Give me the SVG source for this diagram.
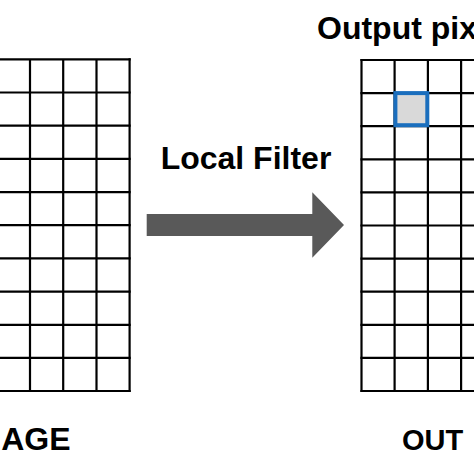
<svg xmlns="http://www.w3.org/2000/svg" width="474" height="474" viewBox="0 0 474 474">
<style>
.grid line{stroke:#000;stroke-width:2.2}
.t{font-family:"Liberation Sans",Arial,sans-serif;font-weight:bold;fill:#000}
</style>
<rect width="474" height="474" fill="#fff"/>
<g id="input-grid" class="grid">
<line x1="30" y1="59.3" x2="30" y2="391"/>
<line x1="63.2" y1="59.3" x2="63.2" y2="391"/>
<line x1="96.5" y1="59.3" x2="96.5" y2="391"/>
<line x1="129.6" y1="58.2" x2="129.6" y2="392.1"/>
<line x1="0" y1="59.3" x2="130.7" y2="59.3"/>
<line x1="0" y1="92.5" x2="130.7" y2="92.5"/>
<line x1="0" y1="125.7" x2="130.7" y2="125.7"/>
<line x1="0" y1="158.9" x2="130.7" y2="158.9"/>
<line x1="0" y1="192.1" x2="130.7" y2="192.1"/>
<line x1="0" y1="225.2" x2="130.7" y2="225.2"/>
<line x1="0" y1="258.4" x2="130.7" y2="258.4"/>
<line x1="0" y1="291.6" x2="130.7" y2="291.6"/>
<line x1="0" y1="324.8" x2="130.7" y2="324.8"/>
<line x1="0" y1="357.9" x2="130.7" y2="357.9"/>
<line x1="0" y1="391" x2="130.7" y2="391"/>
</g>
<g id="output-grid" class="grid">
<line x1="361.5" y1="58.9" x2="361.5" y2="392.1"/>
<line x1="394.6" y1="60" x2="394.6" y2="391"/>
<line x1="427.9" y1="60" x2="427.9" y2="391"/>
<line x1="461.1" y1="60" x2="461.1" y2="391"/>
<line x1="360.4" y1="60" x2="474" y2="60"/>
<line x1="360.4" y1="93.1" x2="474" y2="93.1"/>
<line x1="360.4" y1="126.2" x2="474" y2="126.2"/>
<line x1="360.4" y1="159.3" x2="474" y2="159.3"/>
<line x1="360.4" y1="192.4" x2="474" y2="192.4"/>
<line x1="360.4" y1="225.5" x2="474" y2="225.5"/>
<line x1="360.4" y1="258.6" x2="474" y2="258.6"/>
<line x1="360.4" y1="291.7" x2="474" y2="291.7"/>
<line x1="360.4" y1="324.8" x2="474" y2="324.8"/>
<line x1="360.4" y1="357.9" x2="474" y2="357.9"/>
<line x1="360.4" y1="391" x2="474" y2="391"/>
</g>
<g id="output-pixel">
<rect x="395.4" y="93.1" width="31.9" height="32.1" fill="#d9d9d9" stroke="#1a6ebd" stroke-width="4"/>
</g>
<g id="connectors">
<polygon points="146.7,214 312.3,214 312.3,192.3 344,225 312.3,257.7 312.3,236 146.7,236" fill="#595959"/>
</g>
<text class="t" x="246" y="169.3" font-size="32" text-anchor="middle">Local Filter</text>
<text class="t" x="317" y="38.5" font-size="32">Output pix</text>
<text class="t" x="70.5" y="449.5" font-size="32" text-anchor="end">AGE</text>
<text class="t" x="402" y="449.5" font-size="29">OUT</text>
</svg>
